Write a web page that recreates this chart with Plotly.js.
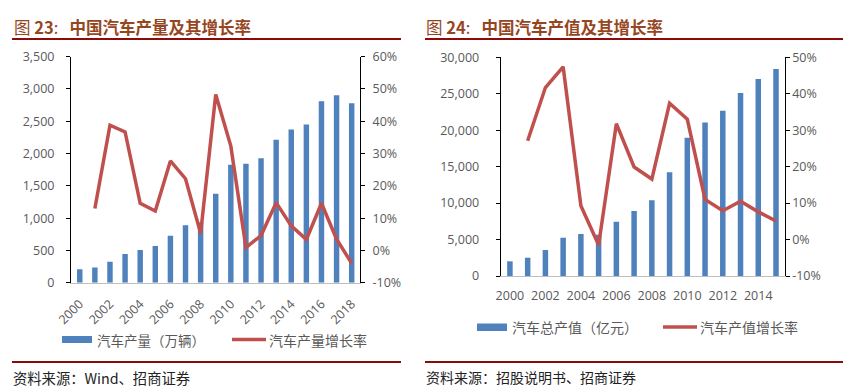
<!DOCTYPE html>
<html>
<head>
<meta charset="utf-8">
<script src="https://cdn.plot.ly/plotly-3.0.1.min.js"></script>
<style>
  html, body { margin: 0; padding: 0; background: #fff; }
  #chart { width: 855px; height: 392px; }
</style>
</head>
<body>
<div id="chart"></div>
<script>
// Figure 23: vehicle output (10k units) and growth rate, 2000-2018
const prodYears = [2000, 2001, 2002, 2003, 2004, 2005, 2006, 2007, 2008, 2009,
                   2010, 2011, 2012, 2013, 2014, 2015, 2016, 2017, 2018];
const prodVolume = [207, 234, 325, 444, 507, 570, 728, 888, 935, 1379,
                    1826, 1842, 1927, 2212, 2372, 2450, 2812, 2902, 2781];
const prodGrowthYears = prodYears.slice(1);
const prodGrowth = [0.130, 0.388, 0.367, 0.146, 0.122, 0.277, 0.222, 0.053, 0.483,
                    0.323, 0.009, 0.046, 0.148, 0.076, 0.034, 0.146, 0.035, -0.040];

// Figure 24: total output value (100M yuan) and growth rate, 2000-2015
const valueYears = [2000, 2001, 2002, 2003, 2004, 2005, 2006, 2007,
                    2008, 2009, 2010, 2011, 2012, 2013, 2014, 2015];
const outputValue = [2010, 2510, 3560, 5250, 5760, 5670, 7450, 8920,
                     10380, 14220, 18980, 21040, 22680, 25100, 27030, 28400];
const valueGrowthYears = valueYears.slice(1);
const valueGrowth = [0.271, 0.417, 0.474, 0.093, -0.015, 0.318, 0.199, 0.166,
                     0.374, 0.330, 0.110, 0.079, 0.105, 0.076, 0.051];

// Axis tick labels
const leftCountTicks = [0, 500, 1000, 1500, 2000, 2500, 3000, 3500];
const leftPctTicks = [-0.1, 0, 0.1, 0.2, 0.3, 0.4, 0.5, 0.6];
const rightValueTicks = [0, 5000, 10000, 15000, 20000, 25000, 30000];
const rightPctTicks = [-0.1, 0, 0.1, 0.2, 0.3, 0.4, 0.5];
const leftYearTicks = [2000, 2002, 2004, 2006, 2008, 2010, 2012, 2014, 2016, 2018];
const rightYearTicks = [2000, 2002, 2004, 2006, 2008, 2010, 2012, 2014];

// Texts
const NB = '\u00A0';
const titleLeft = '图 <b>23</b>:' + NB + NB + NB + '<b>中国汽车产量及其增长率</b>';
const titleRight = '图 <b>24</b>:' + NB + NB + NB + '<b>中国汽车产值及其增长率</b>';
const legendLeft = ['汽车产量（万辆）', '汽车产量增长率'];
const legendRight = ['汽车总产值（亿元）', '汽车产值增长率'];
const sourceLeft = '资料来源：Wind、招商证券';
const sourceRight = '资料来源：招股说明书、招商证券';

const BLUE = '#4F81BD';
const RED = '#C0504D';
const GREY = '#595959';
const TITLE = '#96461E';
const RULE = '#8B0A0A';
const FONT = 'Open Sans, Noto Sans CJK SC, sans-serif';
const CJK = 'Noto Sans CJK SC, sans-serif';

const pct = v => (Math.round(v * 100)) + '%';
const num = v => v.toLocaleString('en-US');

const W = 855, H = 392;
const px = x => x / W;
const py = y => 1 - y / H;

const traces = [
  { type: 'bar', x: prodYears, y: prodVolume, xaxis: 'x', yaxis: 'y',
    width: 0.36, marker: { color: BLUE }, showlegend: false, hoverinfo: 'skip' },
  { type: 'scatter', mode: 'lines', x: prodGrowthYears, y: prodGrowth, xaxis: 'x', yaxis: 'y2',
    line: { color: RED, width: 3.5 }, showlegend: false, hoverinfo: 'skip' },
  { type: 'bar', x: valueYears, y: outputValue, xaxis: 'x2', yaxis: 'y3',
    width: 0.31, marker: { color: BLUE }, showlegend: false, hoverinfo: 'skip' },
  { type: 'scatter', mode: 'lines', x: valueGrowthYears, y: valueGrowth, xaxis: 'x2', yaxis: 'y4',
    line: { color: RED, width: 3.5 }, showlegend: false, hoverinfo: 'skip' }
];

const tickFont = { family: FONT, size: 12.5, color: GREY };

const layout = {
  width: W, height: H,
  margin: { l: 0, r: 0, t: 0, b: 0, pad: 0 },
  paper_bgcolor: '#fff', plot_bgcolor: 'rgba(0,0,0,0)',
  showlegend: false,
  font: { family: FONT, color: GREY },
  xaxis: {
    domain: [px(71), px(360)], anchor: 'y', range: [1999.42, 2018.55],
    tickvals: leftYearTicks, ticktext: leftYearTicks.map(String), tickangle: -45,
    tickfont: tickFont, showline: true, linecolor: '#BFBFBF', linewidth: 1,
    ticks: '', ticklabelstandoff: 8, showgrid: false, zeroline: false
  },
  yaxis: {
    domain: [py(282.7), py(56.7)], anchor: 'x', range: [0, 3500],
    tickvals: leftCountTicks, ticktext: leftCountTicks.map(num), tickfont: tickFont,
    showline: true, linecolor: '#000', linewidth: 1, ticks: 'outside', ticklen: 4,
    tickcolor: '#000', ticklabelstandoff: 9, showgrid: false, zeroline: false
  },
  yaxis2: {
    overlaying: 'y', side: 'right', anchor: 'x', range: [-0.1, 0.6],
    tickvals: leftPctTicks, ticktext: leftPctTicks.map(pct), tickfont: tickFont,
    showline: true, linecolor: '#000', linewidth: 1, ticks: 'outside', ticklen: 4,
    tickcolor: '#000', ticklabelstandoff: 5, showgrid: false, zeroline: false
  },
  xaxis2: {
    domain: [px(500.7), px(784.7)], anchor: 'y3', range: [1999.48, 2015.49],
    tickvals: rightYearTicks, ticktext: rightYearTicks.map(String), tickangle: 0,
    tickfont: tickFont, showline: true, linecolor: '#BFBFBF', linewidth: 1,
    ticks: '', ticklabelstandoff: 8, showgrid: false, zeroline: false
  },
  yaxis3: {
    domain: [py(276), py(57.3)], anchor: 'x2', range: [0, 30000],
    tickvals: rightValueTicks, ticktext: rightValueTicks.map(num), tickfont: tickFont,
    showline: true, linecolor: '#000', linewidth: 1, ticks: 'outside', ticklen: 4,
    tickcolor: '#000', ticklabelstandoff: 14, showgrid: false, zeroline: false
  },
  yaxis4: {
    overlaying: 'y3', side: 'right', anchor: 'x2', range: [-0.1, 0.5],
    tickvals: rightPctTicks, ticktext: rightPctTicks.map(pct), tickfont: tickFont,
    showline: true, linecolor: '#000', linewidth: 1, ticks: 'outside', ticklen: 4,
    tickcolor: '#000', ticklabelstandoff: 0, showgrid: false, zeroline: false
  },
  shapes: [
    // title rules
    { type: 'line', xref: 'paper', yref: 'paper', x0: px(12), x1: px(401), y0: py(39), y1: py(39),
      line: { color: RULE, width: 2 } },
    { type: 'line', xref: 'paper', yref: 'paper', x0: px(425), x1: px(843), y0: py(39), y1: py(39),
      line: { color: RULE, width: 2 } },
    // source rules
    { type: 'line', xref: 'paper', yref: 'paper', x0: px(12), x1: px(401), y0: py(362), y1: py(362),
      line: { color: RULE, width: 2 } },
    { type: 'line', xref: 'paper', yref: 'paper', x0: px(425), x1: px(843), y0: py(362), y1: py(362),
      line: { color: RULE, width: 2 } },
    // legend swatches
    { type: 'rect', xref: 'paper', yref: 'paper', x0: px(62), x1: px(92), y0: py(343), y1: py(336),
      fillcolor: BLUE, line: { width: 0 } },
    { type: 'line', xref: 'paper', yref: 'paper', x0: px(232), x1: px(266), y0: py(339.5), y1: py(339.5),
      line: { color: RED, width: 3.5 } },
    { type: 'rect', xref: 'paper', yref: 'paper', x0: px(477), x1: px(507), y0: py(331), y1: py(323.5),
      fillcolor: BLUE, line: { width: 0 } },
    { type: 'line', xref: 'paper', yref: 'paper', x0: px(663), x1: px(697), y0: py(327), y1: py(327),
      line: { color: RED, width: 3.5 } }
  ],
  annotations: [
    { text: titleLeft, xref: 'paper', yref: 'paper', x: px(12), y: py(27), xanchor: 'left', yanchor: 'middle',
      showarrow: false, font: { family: CJK, size: 16.5, color: TITLE } },
    { text: titleRight, xref: 'paper', yref: 'paper', x: px(424), y: py(27), xanchor: 'left', yanchor: 'middle',
      showarrow: false, font: { family: CJK, size: 16.5, color: TITLE } },
    { text: legendLeft[0], xref: 'paper', yref: 'paper', x: px(95), y: py(340), xanchor: 'left', yanchor: 'middle',
      showarrow: false, font: { family: CJK, size: 13.5, color: GREY } },
    { text: legendLeft[1], xref: 'paper', yref: 'paper', x: px(267), y: py(340), xanchor: 'left', yanchor: 'middle',
      showarrow: false, font: { family: CJK, size: 14, color: GREY } },
    { text: legendRight[0], xref: 'paper', yref: 'paper', x: px(510), y: py(327), xanchor: 'left', yanchor: 'middle',
      showarrow: false, font: { family: CJK, size: 14, color: GREY } },
    { text: legendRight[1], xref: 'paper', yref: 'paper', x: px(698), y: py(327), xanchor: 'left', yanchor: 'middle',
      showarrow: false, font: { family: CJK, size: 14, color: GREY } },
    { text: sourceLeft, xref: 'paper', yref: 'paper', x: px(11), y: py(377), xanchor: 'left', yanchor: 'middle',
      showarrow: false, font: { family: CJK, size: 14.3, color: '#222' } },
    { text: sourceRight, xref: 'paper', yref: 'paper', x: px(424), y: py(377), xanchor: 'left', yanchor: 'middle',
      showarrow: false, font: { family: CJK, size: 14, color: '#222' } }
  ]
};

Plotly.newPlot('chart', traces, layout, { staticPlot: true, displayModeBar: false });
</script>
</body>
</html>
